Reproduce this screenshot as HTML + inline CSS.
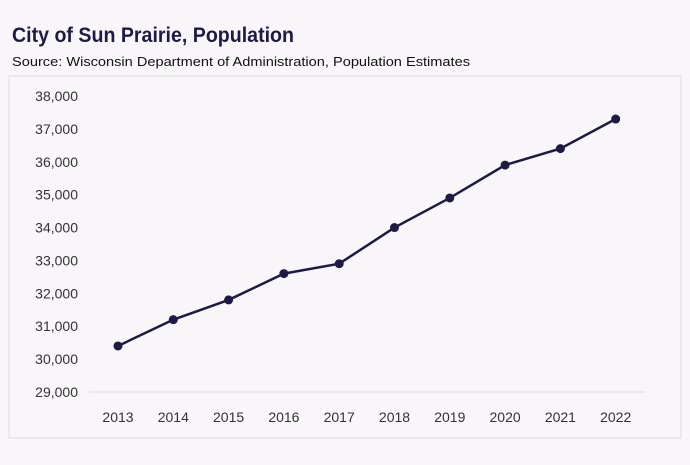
<!DOCTYPE html>
<html><head><meta charset="utf-8"><style>
body{margin:0;background:#f8f6f8;width:690px;height:460px;overflow:hidden;font-family:"Liberation Sans",sans-serif}
</style></head><body>
<svg width="690" height="460">
<text x="12" y="42" font-size="21" font-weight="bold" fill="#1f1a45" textLength="282" lengthAdjust="spacingAndGlyphs">City of Sun Prairie, Population</text>
<text x="12" y="66" font-size="13" fill="#111" textLength="458" lengthAdjust="spacingAndGlyphs">Source: Wisconsin Department of Administration, Population Estimates</text>
<rect x="9" y="76" width="672" height="362" fill="#f8f6f8" stroke="#ddd"/>
<g id="g"></g>
</svg>
<script>
const years=["2013","2014","2015","2016","2017","2018","2019","2020","2021","2022"];
const population=[30400,31200,31800,32600,32900,34000,34900,35900,36400,37300];
const yTicks=[29000,30000,31000,32000,33000,34000,35000,36000,37000,38000];
const ns="http://www.w3.org/2000/svg",g=document.getElementById('g');
const y=v=>392-(v-29000)/9000*296;
const x=i=>118+i*55.3;
function mk(t,a){const e=document.createElementNS(ns,t);for(const k in a)e.setAttribute(k,a[k]);g.appendChild(e);return e;}
const base=mk('line',{x1:89,x2:645,y1:392,y2:392,stroke:'#ddd'});


yTicks.forEach(v=>{const t=mk('text',{x:78,y:y(v)+5,'font-size':14,fill:'#333','text-anchor':'end'});t.textContent=v.toLocaleString('en-US');

});
years.forEach((yr,i)=>{const t=mk('text',{x:x(i),y:422,'font-size':14,fill:'#333','text-anchor':'middle'});t.textContent=yr;

});
const line=mk('polyline',{points:population.map((v,i)=>x(i)+','+y(v)).join(' '),fill:'none',stroke:'#1f1a45','stroke-width':2.5});


population.forEach((v,i)=>{const c=mk('circle',{cx:x(i),cy:y(v),r:4.5,fill:'#1f1a45'});

});
</script>
</body></html>
